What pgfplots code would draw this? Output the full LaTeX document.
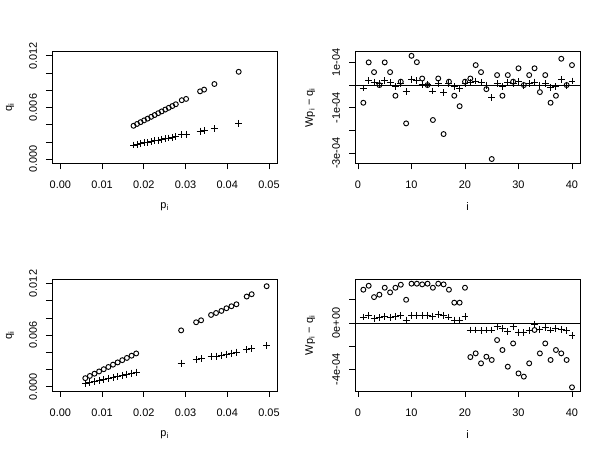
\documentclass[border=0pt]{standalone}
\usepackage{pgfplots}
\pgfplotsset{compat=1.18}
\usepackage{pgfplotstable}
\usepackage{fontspec}
\setmainfont{Liberation Sans}

% p_i, q_i for the two samples (circles: first estimate, pluses: second)
\pgfplotstableread{
p       qc       qp
0.01754 0.00388 0.00165
0.01838 0.00409 0.00173
0.01923 0.00430 0.00181
0.02007 0.00451 0.00189
0.02092 0.00471 0.00197
0.02176 0.00492 0.00205
0.02261 0.00513 0.00214
0.02345 0.00534 0.00222
0.02429 0.00555 0.00230
0.02514 0.00576 0.00238
0.02598 0.00597 0.00246
0.02683 0.00617 0.00254
0.02767 0.00638 0.00262
0.02910 0.00685 0.00284
0.03014 0.00700 0.00290
0.03349 0.00788 0.00326
0.03445 0.00808 0.00333
0.03692 0.00873 0.00356
0.04274 0.01015 0.00415
}\topleft

\pgfplotstableread{
p       qc       qp
0.00598 0.00101 0.00039
0.00707 0.00127 0.00051
0.00818 0.00153 0.00063
0.00929 0.00179 0.00075
0.01040 0.00205 0.00087
0.01151 0.00231 0.00099
0.01262 0.00258 0.00111
0.01373 0.00284 0.00123
0.01484 0.00310 0.00135
0.01595 0.00336 0.00147
0.01707 0.00362 0.00159
0.01818 0.00388 0.00171
0.02895 0.00656 0.00276
0.03254 0.00750 0.00315
0.03373 0.00773 0.00326
0.03612 0.00835 0.00350
0.03732 0.00858 0.00357
0.03860 0.00882 0.00369
0.03980 0.00913 0.00380
0.04100 0.00936 0.00392
0.04220 0.00959 0.00404
0.04466 0.01049 0.00431
0.04585 0.01076 0.00443
0.04944 0.01169 0.00482
}\botleft

% W p_i - q_i by index
\pgfplotstableread{
i  c         pl
1  -0.78e-4  -0.13e-4
2   1.00e-4   0.19e-4
3   0.57e-4   0.12e-4
4   0.00e-4   0.07e-4
5   1.00e-4   0.19e-4
6   0.57e-4   0.12e-4
7  -0.47e-4  -0.07e-4
8   0.15e-4   0.07e-4
9  -1.69e-4  -0.29e-4
10  1.29e-4   0.26e-4
11  1.01e-4   0.19e-4
12  0.29e-4   0.03e-4
13  0.00e-4   0.03e-4
14 -1.54e-4  -0.26e-4
15  0.29e-4   0.06e-4
16 -2.16e-4  -0.34e-4
17  0.15e-4   0.07e-4
18 -0.47e-4  -0.07e-4
19 -0.93e-4  -0.15e-4
20  0.15e-4   0.07e-4
21  0.29e-4   0.10e-4
22  0.88e-4   0.18e-4
23  0.57e-4   0.12e-4
24 -0.18e-4   0.00e-4
25 -3.26e-4  -0.56e-4
26  0.44e-4   0.07e-4
27 -0.47e-4  -0.07e-4
28  0.44e-4   0.10e-4
29  0.15e-4   0.07e-4
30  0.74e-4   0.15e-4
31  0.00e-4   0.00e-4
32  0.44e-4   0.07e-4
33  0.74e-4   0.13e-4
34 -0.31e-4  -0.01e-4
35  0.44e-4   0.07e-4
36 -0.78e-4  -0.12e-4
37 -0.47e-4  -0.07e-4
38  1.16e-4   0.24e-4
39  0.00e-4   0.00e-4
40  0.88e-4   0.18e-4
}\topright

\pgfplotstableread{
i  c         pl
1   2.88e-4   0.52e-4
2   3.22e-4   0.63e-4
3   2.24e-4   0.40e-4
4   2.45e-4   0.46e-4
5   3.05e-4   0.55e-4
6   2.65e-4   0.49e-4
7   3.05e-4   0.58e-4
8   3.31e-4   0.66e-4
9   2.01e-4   0.26e-4
10  3.40e-4   0.66e-4
11  3.40e-4   0.66e-4
12  3.34e-4   0.66e-4
13  3.40e-4   0.66e-4
14  3.05e-4   0.60e-4
15  3.40e-4   0.72e-4
16  3.34e-4   0.66e-4
17  2.88e-4   0.52e-4
18  1.76e-4   0.26e-4
19  1.76e-4   0.26e-4
20  3.05e-4   0.58e-4
21 -2.94e-4  -0.60e-4
22 -2.62e-4  -0.60e-4
23 -3.48e-4  -0.66e-4
24 -2.91e-4  -0.60e-4
25 -3.19e-4  -0.60e-4
26 -1.47e-4  -0.32e-4
27 -2.33e-4  -0.46e-4
28 -3.77e-4  -0.75e-4
29 -1.76e-4  -0.32e-4
30 -4.35e-4  -0.83e-4
31 -4.63e-4  -0.83e-4
32 -3.48e-4  -0.66e-4
33 -0.60e-4  -0.12e-4
34 -2.62e-4  -0.55e-4
35 -1.76e-4  -0.37e-4
36 -3.19e-4  -0.60e-4
37 -2.33e-4  -0.49e-4
38 -2.62e-4  -0.55e-4
39 -3.19e-4  -0.66e-4
40 -5.55e-4  -1.06e-4
}\botright

\pgfplotsset{
    rpanel/.style={
        scale only axis,
        width=169pt, height=83.7pt,
        anchor=south west,
        axis line style={line width=0.7pt},
        tick pos=left,
        tick align=outside,
        major tick length=4.5pt,
        every tick/.style={line width=0.7pt, black},
        xticklabel style={inner sep=0pt, anchor=north},
        yticklabel style={inner sep=0pt, rotate=90, anchor=south},
        xticklabel shift=8.8pt,
        yticklabel shift=6.6pt,
        xlabel style={at={(axis description cs:0.5,-0.39)}, anchor=center},
    },
    circ/.style={only marks, mark=o, mark size=1.85pt, mark options={line width=0.7pt}, black},
    plus/.style={only marks, mark=+, mark size=2.6pt, mark options={line width=0.7pt}, black},
    pq/.style={
        rpanel,
        xmin=-0.002, xmax=0.052, ymin=-0.00048, ymax=0.01248,
        xtick={0,0.01,0.02,0.03,0.04,0.05},
        xticklabels={0.00,0.01,0.02,0.03,0.04,0.05},
        ytick={0,0.002,0.004,0.006,0.008,0.01,0.012},
        yticklabels={0.000,,,0.006,,,0.012},
        xlabel={p\textsubscript{i}}, ylabel={q\textsubscript{i}},
        ylabel style={at={(axis description cs:-0.186,0.5)}, anchor=center},
        scaled ticks=false,
    },
    resid/.style={
        rpanel,
        xmin=-0.56, xmax=41.56,
        xtick={0,10,20,30,40},
        xticklabels={0,10,20,30,40},
        xlabel={i}, ylabel={Wp\textsubscript{i} − q\textsubscript{i}},
        ylabel style={at={(axis description cs:-0.199,0.5)}, anchor=center},
        scaled ticks=false,
    },
}

\begin{document}
\fontsize{8.2}{9.8}\selectfont
\begin{tikzpicture}
\path[use as bounding box] (0,0) rectangle (456pt,342pt);

\begin{axis}[pq, at={(39pt,219.5pt)}]
    \addplot[circ] table[x=p, y=qc] {\topleft};
    \addplot[plus] table[x=p, y=qp] {\topleft};
\end{axis}

\begin{axis}[resid, at={(266.25pt,219.5pt)},
    ymin=-3.45e-4, ymax=1.47e-4,
    ytick={-3e-4,-2e-4,-1e-4,0,1e-4},
    yticklabels={-3e-04,,-1e-04,,1e-04}]
    \addplot[black, line width=0.7pt] coordinates {(-2,0) (44,0)};
    \addplot[circ] table[x=i, y=c] {\topright};
    \addplot[plus] table[x=i, y=pl] {\topright};
\end{axis}

\begin{axis}[pq, at={(39pt,48.75pt)}]
    \addplot[circ] table[x=p, y=qc] {\botleft};
    \addplot[plus] table[x=p, y=qp] {\botleft};
\end{axis}

\begin{axis}[resid, at={(266.25pt,48.75pt)},
    ymin=-5.87e-4, ymax=3.77e-4,
    ytick={-4e-4,-2e-4,0,2e-4},
    yticklabels={-4e-04,,0e+00,}]
    \addplot[black, line width=0.7pt] coordinates {(-2,0) (44,0)};
    \addplot[circ] table[x=i, y=c] {\botright};
    \addplot[plus] table[x=i, y=pl] {\botright};
\end{axis}
\end{tikzpicture}
\end{document}
